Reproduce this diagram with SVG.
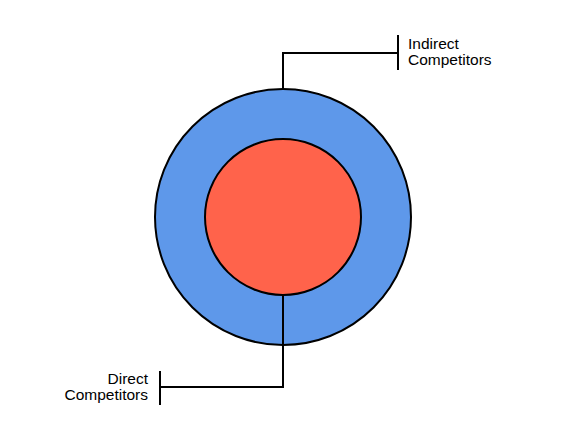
<svg xmlns="http://www.w3.org/2000/svg" width="566" height="434" viewBox="0 0 566 434">
<style>
.c{stroke:#000;stroke-width:2}
.l{fill:none;stroke:#000;stroke-width:2}
.t{font-family:"Liberation Sans",Arial,sans-serif;font-size:15.5px;fill:#000}
</style>
<rect width="566" height="434" fill="#fff"/>
<g id="indirect"><circle class="c" cx="283" cy="217" r="128" fill="#5E98EA"/></g>
<g id="direct"><circle class="c" cx="283" cy="217" r="78" fill="#FF634B"/></g>
<g id="connectors">
<path class="l" d="M283 89V53H398M398 35V70"/>
<path class="l" d="M283 295V387H160M160 371V405"/>
</g>
<g id="label-indirect"><text class="t" x="408" y="49">Indirect</text><text class="t" x="408" y="65">Competitors</text></g>
<g id="label-direct"><text class="t" x="148" y="384" text-anchor="end">Direct</text><text class="t" x="148" y="400" text-anchor="end">Competitors</text></g>
</svg>
